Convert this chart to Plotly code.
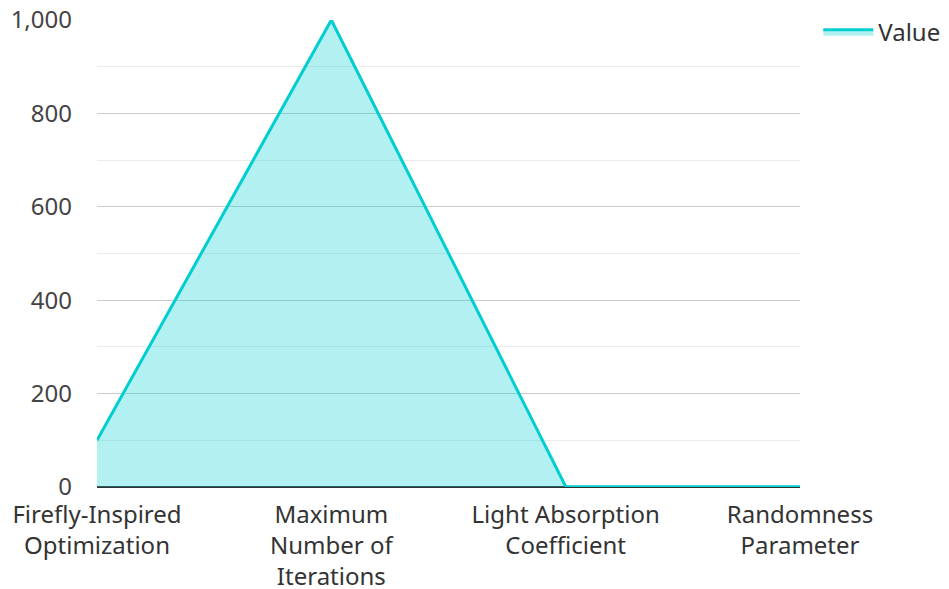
import plotly.graph_objects as go

categories = ["Firefly-Inspired<br>Optimization", "Maximum<br>Number of<br>Iterations",
              "Light Absorption<br>Coefficient", "Randomness<br>Parameter"]
values = [100, 1000, 1, 0.5]
series_name = "Value"

fig = go.Figure()
fig.add_trace(go.Scatter(
    x=categories, y=values, name=series_name, mode="lines",
    line=dict(color="#00CED1", width=3),
    fill="tozeroy", fillcolor="rgba(0,206,209,0.3)",
    showlegend=True,
))

fig.update_layout(
    width=941, height=581,
    margin=dict(l=89, r=149, t=12, b=102, autoexpand=False),
    paper_bgcolor="white", plot_bgcolor="white",
    font=dict(family="Noto Sans", size=24, color="#444"),
    showlegend=True,
    legend=dict(x=1.026, y=1.022, xanchor="left", yanchor="top", itemwidth=50,
                font=dict(size=24, color="#333"), bgcolor="rgba(0,0,0,0)"),
    xaxis=dict(range=[0, 3], showgrid=False, ticks="", zeroline=False,
               showline=False, automargin=False, ticklabelstandoff=11,
               ticklabeloverflow="allow",
               tickfont=dict(size=24, color="#333")),
    yaxis=dict(range=[0, 1000], dtick=200, tickformat=",d", showgrid=True,
               gridcolor="#cccccc", gridwidth=1, zeroline=True,
               zerolinecolor="#333", zerolinewidth=2, showline=False, ticks="",
               ticklabelstandoff=24, automargin=False, ticklabeloverflow="allow",
               minor=dict(dtick=100, showgrid=True, gridcolor="#ebebeb", gridwidth=1),
               tickfont=dict(size=24, color="#444")),
)

fig.write_html("out.html")
